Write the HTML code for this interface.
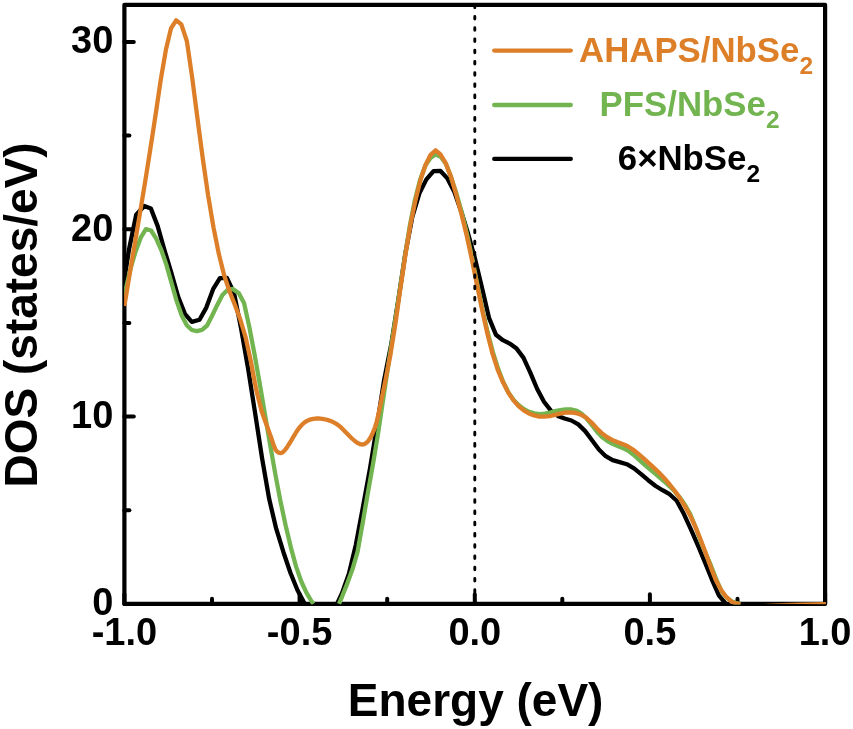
<!DOCTYPE html>
<html lang="en">
<head>
<meta charset="utf-8">
<title>DOS of AHAPS/NbSe2, PFS/NbSe2 and 6×NbSe2</title>
<style>
html,body{margin:0;padding:0;background:#fff;}
body{width:853px;height:729px;overflow:hidden;}
svg{display:block;}
</style>
</head>
<body>
<svg width="853" height="729" viewBox="0 0 853 729"
 font-family="'Liberation Sans', Arial, Helvetica, sans-serif" font-weight="bold" fill="#000">
<defs><clipPath id="plotclip"><rect x="124.1" y="4.85" width="701.8" height="599.7"/></clipPath></defs>
<rect x="0" y="0" width="853" height="729" fill="#ffffff"/>
<!-- axis ticks and frame -->
<g stroke="#000" stroke-width="4.0" stroke-linecap="round"><line x1="124.4" y1="603.85" x2="124.4" y2="594.3" /><line x1="212.0" y1="603.85" x2="212.0" y2="598.7" /><line x1="299.6" y1="603.85" x2="299.6" y2="594.3" /><line x1="387.2" y1="603.85" x2="387.2" y2="598.7" /><line x1="474.8" y1="603.85" x2="474.8" y2="594.3" /><line x1="562.3" y1="603.85" x2="562.3" y2="598.7" /><line x1="649.9" y1="603.85" x2="649.9" y2="594.3" /><line x1="737.5" y1="603.85" x2="737.5" y2="598.7" /><line x1="825.1" y1="603.85" x2="825.1" y2="594.3" /><line x1="124.4" y1="603.9" x2="133.8" y2="603.9" /><line x1="124.4" y1="510.2" x2="129.4" y2="510.2" /><line x1="124.4" y1="416.6" x2="133.8" y2="416.6" /><line x1="124.4" y1="322.9" x2="129.4" y2="322.9" /><line x1="124.4" y1="229.3" x2="133.8" y2="229.3" /><line x1="124.4" y1="135.6" x2="129.4" y2="135.6" /><line x1="124.4" y1="42.0" x2="133.8" y2="42.0" /></g>
<rect x="124.4" y="4.85" width="700.7" height="599.0" fill="none" stroke="#000"
 stroke-width="4.2" stroke-linejoin="round"/>
<!-- data curves (drawn over the frame, clipped to the plot area) -->
<g clip-path="url(#plotclip)">
<path d="M124.4 279.0 L129.1 249.0 L136.2 214.7 L144.2 206.0 L150.9 208.6 L157.6 225.9 L164.4 249.8 L171.3 272.6 L178.1 296.6 L184.9 313.9 L191.8 321.9 L199.5 319.8 L206.3 307.6 L213.1 289.2 L219.9 278.2 L226.9 277.8 L234.0 292.9 L241.0 328.2 L248.1 368.6 L255.1 413.0 L262.1 458.3 L269.2 499.1 L276.2 528.7 L283.3 551.7 L290.4 572.7 L297.4 590.0 L304.7 603.8 M337.0 603.8 L341.9 593.4 L348.9 573.7 L355.9 544.4 L363.0 506.7 L370.1 467.9 L377.1 425.0 L384.1 380.2 L391.2 344.5 L398.2 300.7 L405.3 253.7 L412.4 216.6 L419.4 193.3 L426.4 179.4 L433.5 171.2 L440.5 171.0 L447.4 178.4 L454.4 192.1 L461.3 211.7 L468.2 234.0 L475.2 259.4 L482.1 288.3 L489.1 318.2 L496.0 334.8 L502.9 340.2 L509.7 343.6 L516.6 348.6 L523.4 357.6 L530.3 372.6 L537.2 389.0 L544.0 401.7 L550.9 410.6 L557.7 415.9 L564.6 418.5 L571.4 420.5 L578.3 424.4 L585.2 431.1 L592.0 440.2 L598.9 449.5 L605.7 456.2 L612.6 460.1 L619.7 462.1 L626.8 464.2 L634.0 468.3 L641.1 474.1 L648.2 480.2 L655.3 485.7 L662.5 490.2 L669.6 494.2 L676.7 500.8 L683.8 513.8 L690.8 529.2 L697.9 545.4 L704.9 562.3 L712.0 579.8 L719.0 595.7 L726.0 603.8" fill="none" stroke="#000000" stroke-width="4.3" stroke-linejoin="round" stroke-linecap="butt" />
<path d="M124.4 295.0 L130.3 269.4 L135.5 251.7 L140.7 237.7 L145.9 229.1 L151.1 230.5 L156.2 238.7 L161.3 250.0 L166.4 264.9 L171.5 282.9 L176.6 300.9 L181.7 315.5 L186.8 325.3 L191.8 330.0 L196.9 331.2 L202.0 329.9 L207.1 325.5 L212.2 315.5 L217.3 304.9 L222.4 295.0 L227.5 289.9 L232.6 288.9 L238.9 293.2 L244.1 303.2 L249.3 326.9 L254.5 354.2 L259.7 383.5 L264.9 414.0 L270.1 444.6 L275.3 474.0 L280.5 501.3 L285.7 525.8 L290.9 547.6 L296.1 566.6 L301.3 581.5 L306.5 592.8 L311.7 601.5 L313.5 603.8 M339.0 603.8 L342.0 596.8 L347.2 583.6 L352.4 569.6 L357.6 551.6 L362.8 522.3 L368.0 492.1 L373.2 462.8 L378.4 431.5 L383.6 396.2 L388.8 361.7 L394.0 328.2 L399.2 294.5 L404.4 259.8 L409.6 226.8 L414.8 200.5 L420.0 180.0 L425.2 165.9 L430.4 158.0 L435.6 154.5 L440.8 156.8 L446.0 164.0 L451.2 177.6 L456.4 193.4 L461.6 211.8 L466.8 233.1 L472.0 257.5 L477.2 283.6 L482.4 309.1 L487.6 332.1 L492.8 351.9 L498.0 368.3 L503.2 381.9 L508.4 392.4 L513.6 399.9 L518.8 405.3 L524.0 409.2 L529.2 411.8 L534.4 413.4 L539.6 414.1 L544.8 413.7 L550.0 412.6 L555.2 411.2 L560.4 410.1 L565.6 409.4 L570.8 409.4 L576.0 410.5 L581.2 413.4 L586.4 418.3 L591.6 424.7 L596.8 431.5 L602.0 437.0 L607.2 440.9 L612.4 443.8 L617.6 445.9 L622.8 448.0 L628.0 450.6 L633.2 454.5 L638.4 459.2 L643.6 463.9 L648.8 468.4 L654.0 472.7 L659.2 477.0 L664.4 481.5 L669.6 486.3 L674.8 491.6 L680.0 497.7 L685.2 505.2 L690.4 514.6 L695.6 527.3 L700.8 541.6 L706.0 554.1 L711.2 566.2 L716.4 579.7 L721.6 591.3 L726.8 597.8 L732.0 601.6 L737.2 603.5 L740.5 603.8" fill="none" stroke="#72b44f" stroke-width="4.3" stroke-linejoin="round" stroke-linecap="butt" />
<path d="M124.4 306.0 L129.5 275.2 L134.7 244.3 L139.9 213.5 L145.1 182.2 L150.2 149.8 L155.5 115.3 L160.7 80.1 L165.9 49.8 L171.1 28.1 L176.1 20.3 L181.3 24.4 L186.9 41.3 L192.2 77.8 L197.5 118.6 L202.9 159.4 L208.2 196.0 L213.5 227.3 L218.8 253.8 L224.2 275.5 L229.5 291.2 L234.8 304.6 L240.1 318.9 L245.5 336.8 L250.8 361.0 L256.1 389.2 L261.4 410.3 L263.2 415.7 L265.0 420.7 L266.8 425.5 L268.5 430.3 L270.3 435.2 L272.1 440.3 L273.9 445.8 L275.6 449.8 L277.4 451.9 L279.1 452.9 L280.8 453.1 L282.6 452.4 L284.3 450.8 L286.0 448.7 L287.7 446.2 L289.4 443.5 L291.2 440.6 L292.9 437.7 L294.6 434.8 L296.3 432.0 L298.0 429.5 L299.8 427.2 L301.5 425.3 L303.2 423.6 L304.9 422.2 L306.7 421.1 L308.4 420.3 L310.1 419.6 L311.8 419.2 L313.5 418.8 L315.3 418.6 L317.0 418.5 L318.7 418.5 L320.4 418.6 L322.1 418.8 L323.9 419.1 L325.6 419.5 L327.3 419.9 L329.0 420.4 L330.7 421.1 L332.5 421.8 L334.2 422.7 L335.9 423.6 L337.6 424.8 L339.4 426.1 L341.1 427.5 L342.8 429.2 L344.5 430.9 L346.2 432.7 L348.0 434.5 L349.7 436.3 L351.4 438.0 L353.1 439.5 L354.8 441.0 L356.6 442.3 L358.3 443.3 L360.0 444.1 L361.7 444.5 L363.4 444.4 L365.0 443.8 L366.7 442.6 L368.4 440.7 L370.1 438.2 L371.8 435.1 L373.4 431.4 L375.1 426.9 L376.8 421.3 L378.5 414.1 L380.2 405.7 L385.2 381.4 L390.3 355.5 L395.3 324.5 L400.3 289.5 L405.4 254.9 L410.4 224.9 L415.5 200.1 L420.5 179.9 L425.6 164.8 L430.6 154.8 L435.6 150.3 L440.5 154.5 L445.7 163.2 L450.9 176.6 L456.1 194.2 L461.3 213.5 L466.5 234.8 L471.7 258.6 L476.9 284.4 L482.1 309.9 L487.3 333.3 L492.5 353.6 L497.7 369.6 L502.9 382.1 L508.1 392.2 L513.3 400.1 L518.5 406.0 L523.7 410.3 L528.9 413.4 L534.1 415.4 L539.3 416.6 L544.5 416.7 L549.7 416.1 L554.9 414.9 L560.1 413.7 L565.3 412.7 L570.5 412.4 L575.7 413.0 L580.9 414.6 L586.1 417.6 L591.3 422.3 L596.5 428.0 L601.7 433.1 L606.9 437.0 L612.1 439.9 L617.3 442.0 L622.5 443.9 L627.7 446.2 L632.9 449.5 L638.1 453.7 L643.3 458.2 L648.5 462.8 L653.7 467.6 L658.9 472.6 L664.1 478.0 L669.3 484.0 L674.5 490.5 L679.7 497.8 L684.9 506.1 L690.1 515.5 L695.3 526.6 L700.5 539.3 L705.7 553.3 L710.9 567.6 L716.1 580.6 L721.3 590.4 L726.5 597.2 L731.7 601.8 L736.9 603.7 L740.4 603.8" fill="none" stroke="#dd7f28" stroke-width="4.3" stroke-linejoin="round" stroke-linecap="butt" />
<!-- thin wedge of the orange curve lying on the x axis at the far right -->
<polygon points="763,603.4 800,602.5 826,602.0 826,604.4 800,604.0" fill="#dd7f28"/>
</g>
<!-- Fermi level dashed line (drawn above the curves) -->
<line x1="474.8" y1="5.15" x2="474.8" y2="601.85" stroke="#000" stroke-width="2.9"
 stroke-linecap="round" stroke-dasharray="2.7 8.54"/>
<g font-size="38px"><text x="124.4" y="645.3" text-anchor="middle">-1.0</text><text x="299.6" y="645.3" text-anchor="middle">-0.5</text><text x="474.8" y="645.3" text-anchor="middle">0.0</text><text x="649.9" y="645.3" text-anchor="middle">0.5</text><text x="825.1" y="645.3" text-anchor="middle">1.0</text><text x="113.3" y="615.2" text-anchor="end">0</text><text x="113.3" y="428.0" text-anchor="end">10</text><text x="113.3" y="240.7" text-anchor="end">20</text><text x="113.3" y="53.4" text-anchor="end">30</text></g>
<line x1="494.2" y1="50.6" x2="570.8" y2="50.6" stroke="#dd7f28" stroke-width="4.3" stroke-linecap="round"/><text x="579.0" y="61.9" fill="#dd7f28" font-size="34.8px">AHAPS/NbSe<tspan font-size="24.5px" dy="12">2</tspan></text><line x1="494.2" y1="105.0" x2="570.8" y2="105.0" stroke="#72b44f" stroke-width="4.3" stroke-linecap="round"/><text x="599.6" y="116.4" fill="#72b44f" font-size="34.8px">PFS/NbSe<tspan font-size="24.5px" dy="12">2</tspan></text><line x1="494.2" y1="158.9" x2="570.8" y2="158.9" stroke="#000000" stroke-width="4.3" stroke-linecap="round"/><text x="617.8" y="170.2" fill="#000000" font-size="34.8px">6×NbSe<tspan font-size="24.5px" dy="12">2</tspan></text>
<text x="475.6" y="715.7" text-anchor="middle" font-size="46px">Energy (eV)</text>
<text transform="translate(37.4 314.9) rotate(-90)" text-anchor="middle" font-size="46px">DOS (states/eV)</text>
</svg>
</body>
</html>
